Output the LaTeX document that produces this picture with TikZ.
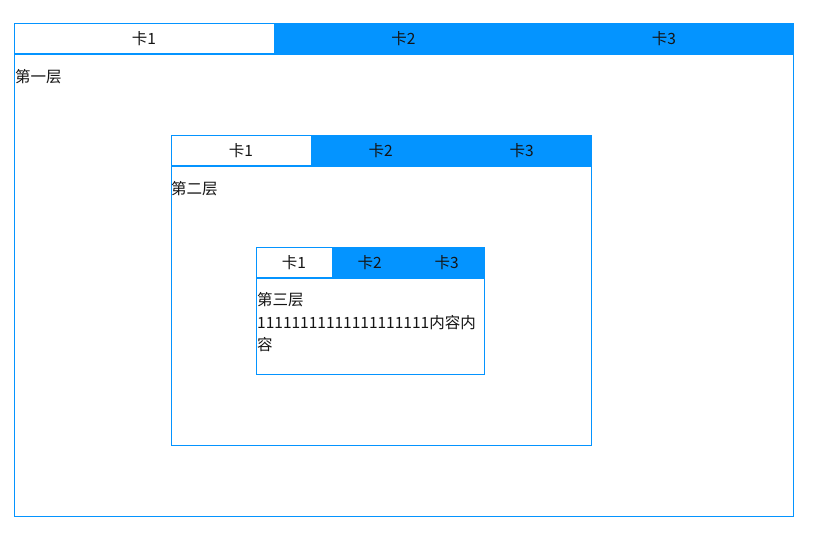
\documentclass[tikz,border=0pt]{standalone}
\usepackage{fontspec}
\setmainfont{Noto Sans CJK SC}
\definecolor{tabblue}{RGB}{4,148,255}
\definecolor{ink}{RGB}{20,20,20}
\tikzset{
  tabon/.style={draw=tabblue, fill=white, line width=1pt, inner sep=0pt, anchor=north west, text=ink, font=\fontsize{15.5}{18}\selectfont},
  taboff/.style={draw=none, fill=tabblue, inner sep=0pt, anchor=north west, text=ink, font=\fontsize{15.5}{18}\selectfont},
  panel/.style={draw=tabblue, line width=1pt, fill=none},
  txt/.style={inner sep=0pt, anchor=west, text=ink, font=\fontsize{15.5}{18}\selectfont}
}
\begin{document}
\begin{tikzpicture}[x=1pt,y=-1pt]
\useasboundingbox[fill=white] (0,0) rectangle (814,545);
% ---- layer 1
\node[panel, minimum width=779pt, minimum height=462pt, anchor=north west] (p1) at (14,54) {};
\node[taboff, minimum width=260.5pt, minimum height=31pt] (l1t2) at (273,23) {卡2};
\node[taboff, minimum width=260.5pt, minimum height=31pt] (l1t3) at (533.5,23) {卡3};
\node[tabon, minimum width=260pt, minimum height=30pt] (l1t1) at (13.5,23.5) {卡1};
\node[txt] (l1c) at (15,77) {第一层};
% ---- layer 2
\node[panel, minimum width=420pt, minimum height=279pt, anchor=north west] (p2) at (171,166) {};
\node[taboff, minimum width=141pt, minimum height=31pt] (l2t2) at (310,135) {卡2};
\node[taboff, minimum width=141pt, minimum height=31pt] (l2t3) at (451,135) {卡3};
\node[tabon, minimum width=140pt, minimum height=30pt] (l2t1) at (170.5,135.5) {卡1};
\node[txt] (l2c) at (171,189) {第二层};
% ---- layer 3
\node[panel, minimum width=228pt, minimum height=96pt, anchor=north west] (p3) at (256,278) {};
\node[taboff, minimum width=77pt, minimum height=31pt] (l3t2) at (331,247) {卡2};
\node[taboff, minimum width=77pt, minimum height=31pt] (l3t3) at (408,247) {卡3};
\node[tabon, minimum width=76pt, minimum height=30pt] (l3t1) at (255.5,247.5) {卡1};
\node[txt] (l3a) at (257,300) {第三层};
\node[txt] (l3b) at (257,322.5) {11111111111111111111内容内};
\node[txt] (l3c) at (257,345) {容};
\end{tikzpicture}
\end{document}
